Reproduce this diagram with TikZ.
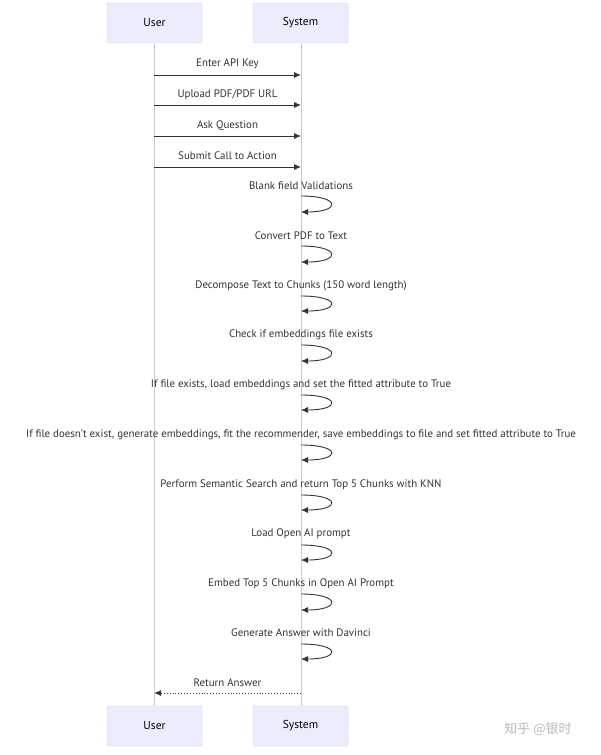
\documentclass[tikz,border=0pt]{standalone}
\usepackage{fontspec}
\setmainfont{PT Sans}
\newfontfamily\cjk{Noto Sans CJK SC}
\usetikzlibrary{arrows.meta}
\definecolor{actorfill}{HTML}{ECECFF}
\definecolor{actorline}{HTML}{D6CCF2}
\definecolor{lifeline}{HTML}{C8C8D8}
\definecolor{msgcol}{HTML}{333333}
\tikzset{
  actorbox/.style={draw=actorline, fill=actorfill, rounded corners=1.5pt, minimum width=95pt, minimum height=40pt, font=\fontsize{11.5}{13}\selectfont, inner sep=0pt},
  msglabel/.style={font=\fontsize{10.9}{12}\selectfont, text=msgcol, inner sep=0pt},
  msg/.style={draw=msgcol, line width=0.9pt, -{Latex[length=7pt,width=6pt]}},
  reply/.style={msg, dotted, line width=1pt},
  selfmsg/.style={msg}
}
\begin{document}
\begin{tikzpicture}[x=1pt, y=-1pt]
\useasboundingbox (0,0) rectangle (600,755);

% lifelines
\coordinate (utop) at (154,44);
\coordinate (ubot) at (154,707);
\coordinate (stop) at (301,44);
\coordinate (sbot) at (301,707);
\draw [lifeline, line width=0.8pt] (utop)--(ubot);
\draw [lifeline, line width=0.8pt] (stop)--(sbot);

% the actors
\node [actorbox] (user) at (154.5,23) {User};
\node [actorbox] (system) at (300.5,23) {System};
\node [actorbox] (user2) at (154.5,726) {User};
\node [actorbox] (system2) at (300.5,726) {System};

% user to system
\coordinate (u1) at (154,75);  \coordinate (s1) at (301,75);
\coordinate (u2) at (154,105); \coordinate (s2) at (301,105);
\coordinate (u3) at (154,136); \coordinate (s3) at (301,136);
\coordinate (u4) at (154,167); \coordinate (s4) at (301,167);

\draw [msg] (u1)--(s1);
\node [msglabel] (l1) at (227.5,64) {Enter API Key};
\draw [msg] (u2)--(s2);
\node [msglabel] (l2) at (227.5,95) {Upload PDF/PDF URL};
\draw [msg] (u3)--(s3);
\node [msglabel] (l3) at (227.5,126) {Ask Question};
\draw [msg] (u4)--(s4);
\node [msglabel] (l4) at (227.5,156) {Submit Call to Action};

% system to itself
\coordinate (a5) at (301,196);  \coordinate (b5) at (301,212);
\coordinate (a6) at (301,246);  \coordinate (b6) at (301,262);
\coordinate (a7) at (301,296);  \coordinate (b7) at (301,311);
\coordinate (a8) at (301,345);  \coordinate (b8) at (301,361);
\coordinate (a9) at (301,395);  \coordinate (b9) at (301,410);
\coordinate (a10) at (301,445); \coordinate (b10) at (301,460);
\coordinate (a11) at (301,495); \coordinate (b11) at (301,510);
\coordinate (a12) at (301,545); \coordinate (b12) at (301,560);
\coordinate (a13) at (301,594); \coordinate (b13) at (301,610);
\coordinate (a14) at (301,644); \coordinate (b14) at (301,659);

\node [msglabel] (l5) at (301,186) {Blank field Validations};
\draw [selfmsg] (a5) .. controls +(40,0) and +(40,0) .. (b5);
\node [msglabel] (l6) at (301,236) {Convert PDF to Text};
\draw [selfmsg] (a6) .. controls +(40,0) and +(40,0) .. (b6);
\node [msglabel] (l7) at (301,286) {Decompose Text to Chunks (150 word length)};
\draw [selfmsg] (a7) .. controls +(40,0) and +(40,0) .. (b7);
\node [msglabel] (l8) at (301,335) {Check if embeddings file exists};
\draw [selfmsg] (a8) .. controls +(40,0) and +(40,0) .. (b8);
\node [msglabel] (l9) at (301,385) {If file exists, load embeddings and set the fitted attribute to True};
\draw [selfmsg] (a9) .. controls +(40,0) and +(40,0) .. (b9);
\node [msglabel] (l10) at (301,435) {If file doesn't exist, generate embeddings, fit the recommender, save embeddings to file and set fitted attribute to True};
\draw [selfmsg] (a10) .. controls +(40,0) and +(40,0) .. (b10);
\node [msglabel] (l11) at (301,485) {Perform Semantic Search and return Top 5 Chunks with KNN};
\draw [selfmsg] (a11) .. controls +(40,0) and +(40,0) .. (b11);
\node [msglabel] (l12) at (301,534) {Load Open AI prompt};
\draw [selfmsg] (a12) .. controls +(40,0) and +(40,0) .. (b12);
\node [msglabel] (l13) at (301,584) {Embed Top 5 Chunks in Open AI Prompt};
\draw [selfmsg] (a13) .. controls +(40,0) and +(40,0) .. (b13);
\node [msglabel] (l14) at (301,633) {Generate Answer with Davinci};
\draw [selfmsg] (a14) .. controls +(40,0) and +(40,0) .. (b14);

% the answer
\coordinate (s15) at (301,693); \coordinate (u15) at (154,693);
\draw [reply] (s15)--(u15);
\node [msglabel] (l15) at (227.5,683) {Return Answer};

% watermark
\node [font=\cjk\fontsize{13}{15}\selectfont, text=gray!55] (mark) at (538,729) {知乎 @银时};

%\draw [help lines, step=50] (0,0) grid (600,755);
\end{tikzpicture}
\end{document}
